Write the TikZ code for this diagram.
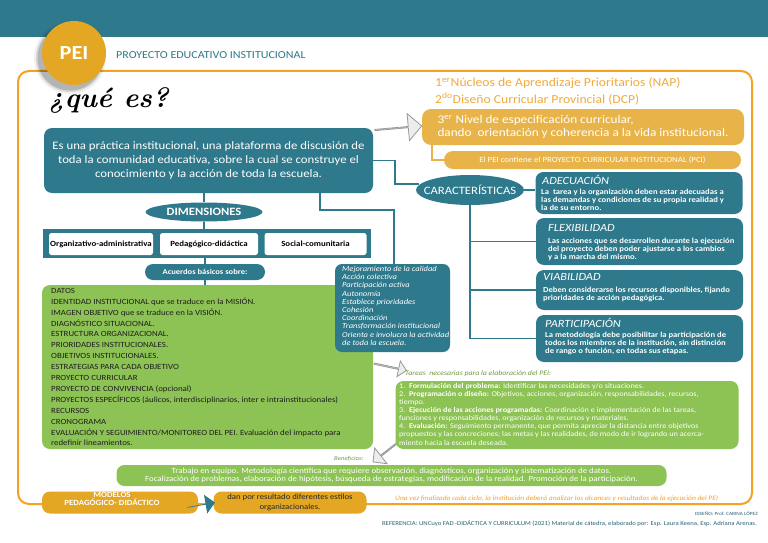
\documentclass[tikz,border=0pt]{standalone}
\usepackage{fontspec}
\setsansfont{Carlito}[FakeStretch=1.12]
\renewcommand\familydefault{\sfdefault}
\usetikzlibrary{shapes.geometric,shapes.arrows,calc}
\definecolor{tealc}{RGB}{46,121,139}
\definecolor{greenc}{RGB}{141,194,85}
\definecolor{goldb}{RGB}{232,180,74}
\definecolor{goldd}{RGB}{227,167,36}
\definecolor{orangec}{RGB}{246,161,32}
\definecolor{napc}{RGB}{241,170,60}
\definecolor{greytx}{RGB}{30,30,30}
\definecolor{reftx}{RGB}{40,95,115}
\newcommand\fs[2]{\fontsize{#1}{#2}\selectfont}
\begin{document}
\begin{tikzpicture}[x=1pt,y=-1pt,
  conn/.style={draw=tealc, line width=1.6pt},
  tealbox/.style={fill=tealc, rounded corners=8pt, inner sep=0},
  dimbox/.style={fill=white, rounded corners=2.5pt, minimum height=22, inner sep=0, font=\bfseries\fs{7.9}{7.9}},
  card/.style={fill=tealc, rounded corners=8pt, inner sep=0, minimum width=207},
  cardtitle/.style={anchor=west, inner sep=0, text=white, font=\itshape\fs{11}{11}},
  cardbody/.style={anchor=north west, inner sep=0, align=left, text=white, font=\bfseries\fs{7.7}{8}},
  sketch/.style={single arrow, draw=black!40, fill=black!7, line width=0.8pt, inner sep=0},
  label/.style={anchor=west, inner sep=0}]
\useasboundingbox (0,0) rectangle (768,543);
\fill[white] (0,0) rectangle (768,543);
% top band
\fill[tealc] (0,0) rectangle (768,37);
% orange frame
\draw[orangec, line width=2pt, rounded corners=11pt] (18,71) rectangle (752,504);
% PEI badge
\foreach \r/\o in {36/0.06,34/0.10,32.5/0.16} \fill[black, opacity=\o] (70,58) circle (\r);
\node[circle, fill=goldd, minimum size=64, inner sep=0, text=white, font=\bfseries\fs{20}{20}] (pei) at (74,53) {PEI};
\node[label, text=tealc, font=\fs{10.7}{10.7}] (ttl) at (116,55) {PROYECTO EDUCATIVO INSTITUCIONAL};
\node[label, font=\rmfamily\bfseries\itshape\fs{28}{28}] (que) at (48,100) {¿qué es?};
% main box
\node[tealbox, minimum width=329, minimum height=65, align=center, text=white, font=\fs{11.4}{14}] (main) at (208.5,160.5)
 {Es una práctica institucional, una plataforma de discusión de\\toda la comunidad educativa, sobre la cual se construye el\\conocimiento y la acción de toda la escuela.};
% dimensiones
\node[ellipse, fill=tealc, minimum width=117, minimum height=19, inner sep=0] (dimell) at (204,212) {};
\node[text=white, font=\bfseries\fs{11.2}{11.2}, inner sep=0] (dimtxt) at (dimell) {DIMENSIONES};
\node[fill=tealc, minimum width=328, minimum height=29, inner sep=0] (dimfr) at (206.5,243.5) {};
\node[dimbox, minimum width=104] (org) at (101,244) {Organizativo-administrativa};
\node[dimbox, minimum width=98] (ped) at (209,244) {Pedagógico-didáctica};
\node[dimbox, minimum width=102] (soc) at (315.5,244) {Social-comunitaria};
\node[tealbox, minimum width=120, minimum height=16, text=white, font=\bfseries\fs{7.6}{7.6}] (acu) at (205,272) {Acuerdos básicos sobre:};
\draw[conn] (main.south -| dimell) -- (dimell.north);
\draw[conn] (dimell.south) -- (dimell.south |- dimfr.north);
\draw[conn] (acu.north |- dimfr.south) -- (acu.north);
% green list
\node[fill=greenc, rounded corners=8pt, minimum width=331, minimum height=164, inner sep=0] (grn) at (207.5,367) {};
\draw[conn] (acu.south) -- (acu.south |- grn.north);
\node[anchor=north west, align=left, inner sep=0, text=greytx, font=\fs{7.9}{10.9}] (grntx) at (51,288)
 {DATOS\\
 IDENTIDAD INSTITUCIONAL que se traduce en la MISIÓN.\\
 IMAGEN OBJETIVO que se traduce en la VISIÓN.\\
 DIAGNÓSTICO SITUACIONAL.\\
 ESTRUCTURA ORGANIZACIONAL.\\
 PRIORIDADES INSTITUCIONALES.\\
 OBJETIVOS INSTITUCIONALES.\\
 ESTRATEGIAS PARA CADA OBJETIVO\\
 PROYECTO CURRICULAR\\
 PROYECTO DE CONVIVENCIA (opcional)\\
 PROYECTOS ESPECÍFICOS (áulicos, interdisciplinarios, inter e intrainstitucionales)\\
 RECURSOS\\
 CRONOGRAMA\\
 EVALUACIÓN Y SEGUIMIENTO/MONITOREO DEL PEI. Evaluación del impacto para\\
 redefinir lineamientos.};
% teal italic list
\node[fill=tealc, rounded corners=7pt, minimum width=115, minimum height=88, inner sep=0] (tlist) at (392.5,308) {};
\node[anchor=north west, align=left, inner sep=0, text=white, font=\itshape\fs{7.6}{8.2}] (tlisttx) at (342,266)
 {Mejoramiento de la calidad\\Acción colectiva\\Participación activa\\Autonomía\\Establece prioridades\\Cohesión\\Coordinación\\Transformación institucional\\Orienta e involucra la actividad\\de toda la escuela.};
% características
\node[ellipse, fill=tealc, minimum width=108, minimum height=30, inner sep=0] (car) at (470,190) {};
\node[text=white, font=\fs{11.3}{11.3}, inner sep=0] (cartxt) at (car) {CARACTERÍSTICAS};
\draw[conn] (main.east) -| ($(car.west)+(-21,-6)$) -- ($(car.west)+(3,-6)$);
\draw[conn] ($(main.south west)+(276,0)$) |- ($(tlist.north)+(1.5,-54)$) -- ($(tlist.north)+(1.5,0)$);
% cards
\node[card, minimum height=42] (ade) at (639,193) {};
\node[card, minimum height=47] (flex) at (639.5,241.5) {};
\node[card, minimum height=40] (viab) at (639.5,290) {};
\node[card, minimum height=47] (part) at (639.5,338.5) {};
\draw[conn] (car.east) -- (car.east -| ade.west);
\draw[conn] (car.south) -- (car.south |- part.west) -- (part.west);
\draw[conn] (car.south |- flex.west) -- (flex.west);
\draw[conn] (car.south |- viab.west) -- (viab.west);
\node[cardtitle] (adet) at (542,180) {ADECUACIÓN};
\node[cardbody] (adeb) at (541,189) {La\ \ tarea y la organización deben estar adecuadas a\\las demandas y condiciones de su propia realidad y\\la de su entorno.};
\node[cardtitle] (flext) at (548,228) {FLEXIBILIDAD};
\node[cardbody] (flexb) at (548,238) {Las acciones que se desarrollen durante la ejecución\\del proyecto deben poder ajustarse a los cambios\\y a la marcha del mismo.};
\node[cardtitle] (viabt) at (543,277) {VIABILIDAD};
\node[cardbody] (viabb) at (543,287) {Deben considerarse los recursos disponibles, fijando\\prioridades de acción pedagógica.};
\node[cardtitle] (partt) at (545,323) {PARTICIPACIÓN};
\node[cardbody] (partb) at (545,332) {La metodología debe posibilitar la participación de\\todos los miembros de la institución, sin distinción\\de rango o función, en todas sus etapas.};
% curricular levels
\node[label, text=napc, font=\fs{12.2}{12.2}] (nap) at (435,83) {1\textsuperscript{er}Núcleos de Aprendizaje Prioritarios (NAP)};
\node[label, text=napc, font=\fs{12.2}{12.2}] (dcp) at (435,99) {2\textsuperscript{do}Diseño Curricular Provincial (DCP)};
\node[fill=goldb, rounded corners=9pt, minimum width=322, minimum height=36, inner xsep=10, inner ysep=0, align=left, text=white, font=\fs{11.8}{13}] (nivel) at (583,127)
 {3\textsuperscript{er} Nivel de especificación curricular,\\dando\ \ orientación y coherencia a la vida institucional.};
\node[fill=goldb, rounded corners=9pt, minimum width=297, minimum height=18, inner sep=0, text=white, font=\fs{7.9}{7.9}] (pci) at (592.5,160) {El PEI contiene el PROYECTO CURRICULAR INSTITUCIONAL (PCI)};
\draw[goldb, line width=1.5pt] ($(nivel.south west)+(10,0)$) |- (pci.west);
% sketch arrows
\node[sketch, minimum height=47, minimum width=27, single arrow head extend=8.5, rotate=5] (ar1) at (398,128) {};
\node[sketch, minimum height=33, minimum width=16, single arrow head extend=4.5, rotate=-12] (ar2) at (390,367) {};
\node[sketch, minimum height=35, minimum width=20, single arrow head extend=6, rotate=218] (ar3) at (387,451) {};
% tareas
\node[label, text=greenc!80!black, font=\itshape\fs{7}{7}] (tareas) at (405,374) {Tareas\ \ necesarias para la elaboración del PEI:};
\node[fill=greenc, rounded corners=8pt, minimum width=343, minimum height=68, inner sep=0] (tasks) at (567,415) {};
\node[anchor=north west, align=left, inner sep=0, text=white, font=\fs{7.3}{8.1}] (taskstx) at (399,383)
 {1.\ \ \textbf{Formulación del problema:} Identificar las necesidades y/o situaciones.\\
 2.\ \ \textbf{Programación o diseño:} Objetivos, acciones, organización, responsabilidades, recursos,\\
 tiempo.\\
 3.\ \ \textbf{Ejecución de las acciones programadas:} Coordinación e implementación de las tareas,\\
 funciones y responsabilidades, organización de recursos y materiales.\\
 4.\ \ \textbf{Evaluación:} Seguimiento permanente, que permita apreciar la distancia entre objetivos\\
 propuestos y las concreciones; las metas y las realidades, de modo de ir logrando un acerca-\\
 miento hacia la escuela deseada.};
% beneficios
\node[label, text=greenc!80!black, font=\itshape\fs{6}{6}] (benef) at (334,459) {Beneficios:};
\node[fill=greenc, rounded corners=8pt, minimum width=550, minimum height=21, inner sep=0, align=center, text=white, font=\fs{7.9}{8.8}] (bbox) at (391.5,475.5)
 {Trabajo en equipo. Metodología científica que requiere observación, diagnósticos, organización y sistematización de datos.\\
 Focalización de problemas, elaboración de hipótesis, búsqueda de estrategias, modificación de la realidad. Promoción de la participación.};
% bottom
\node[fill=goldd, rounded corners=8pt, minimum width=156, minimum height=22, inner sep=0] (mod) at (120,502.5) {};
\node[align=center, inner sep=0, text=white, font=\bfseries\fs{7.9}{8.5}] (modtx) at (112,499) {MODELOS\\PEDAGÓGICO- DIDÁCTICO};
\node[fill=goldd, rounded corners=8pt, minimum width=153, minimum height=22, inner sep=0, align=center, text=black!85, font=\fs{7.8}{9.5}] (dan) at (290,502.5) {dan por resultado diferentes estilos\\organizacionales.};
\node[single arrow, fill=tealc, minimum height=28, minimum width=19, single arrow head extend=5, inner sep=0, rotate=10] (tarr) at (201,505) {};
\node[label, text=orangec, font=\itshape\fs{6.7}{6.7}] (unavez) at (395,499) {Una vez finalizado cada ciclo, la institución deberá analizar los alcances y resultados de la ejecución del PEI};
\node[anchor=east, inner sep=0, text=reftx, font=\fs{4.8}{4.8}] (dis) at (758,514) {DISEÑO: Prof. CARINA LÓPEZ};
\node[anchor=east, inner sep=0, text=reftx, font=\fs{6}{6}] (ref) at (757,523.5) {REFERENCIA: UNCuyo FAD -DIDÁCTICA Y CURRICULUM (2021) Material de cátedra, elaborado por: Esp. Laura Keena, Esp. Adriana Arenas.};
\end{tikzpicture}
\end{document}
